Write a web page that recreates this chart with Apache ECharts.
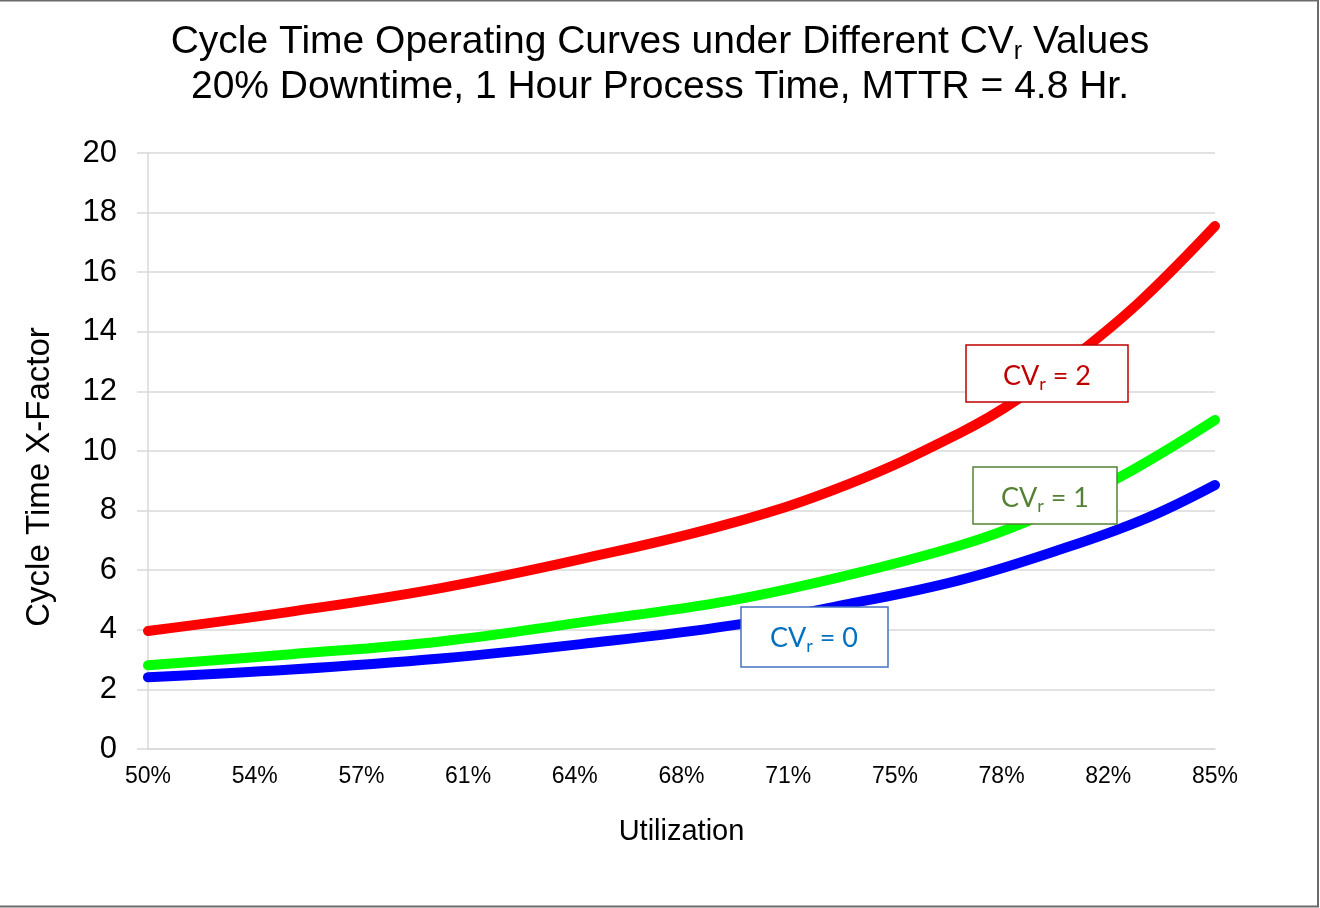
<!DOCTYPE html>
<html>
<head>
<meta charset="utf-8">
<script src="https://cdn.jsdelivr.net/npm/echarts@6/dist/echarts.min.js"></script>
<style>
html,body{margin:0;padding:0;background:#fff;}
#chart{width:1320px;height:908px;}
</style>
</head>
<body>
<div id="chart"></div>
<script>
// Tick positions (utilization, %) and their labels
const xTicks = [50, 53.5, 57, 60.5, 64, 67.5, 71, 74.5, 78, 81.5, 85];
const xTickLabels = ['50%', '54%', '57%', '61%', '64%', '68%', '71%', '75%', '78%', '82%', '85%'];

// CVr = 2 (red)
const redX = [50, 54.7, 59.6, 64.2, 69.1, 73.0, 76.6, 78.5, 80.8, 82.6, 85];
const redY = [3.96, 4.61, 5.40, 6.37, 7.57, 8.90, 10.59, 11.72, 13.5, 15.07, 17.55];
// CVr = 1 (green)
const greenX = [50, 54.7, 59.6, 64.2, 69.1, 73.0, 76.6, 78.8, 81.8, 85];
const greenY = [2.81, 3.18, 3.61, 4.25, 4.98, 5.84, 6.82, 7.62, 9.08, 11.04];
// CVr = 0 (blue)
const blueX = [50, 54.7, 59.6, 64.2, 69.1, 73.0, 76.6, 79.7, 82.6, 85];
const blueY = [2.41, 2.67, 3.04, 3.52, 4.14, 4.87, 5.66, 6.62, 7.68, 8.86];

const pairs = (xs, ys) => xs.map((x, i) => [x, ys[i]]);

const AX = 'Liberation Sans, Arial, sans-serif';
const BOX = 'Lato, sans-serif';
const GRID = '#d9d9d9';

function box(x, y, w, h, cx, cy, label, stroke, color) {
  return {
    type: 'group', z: 100,
    children: [
      { type: 'rect', z: 100, shape: { x: x, y: y, width: w, height: h },
        style: { fill: '#fff', stroke: stroke, lineWidth: 1.5 } },
      { type: 'text', z: 101, x: cx, y: cy,
        style: {
          text: '{m|CV}{s|r}{m| = ' + label + '}',
          align: 'center', verticalAlign: 'middle',
          rich: {
            m: { fontSize: 27, fontFamily: BOX, fill: color, lineHeight: 28, padding: [0, 0, 6, 0] },
            s: { fontSize: 18, fontFamily: BOX, fill: color, lineHeight: 18, verticalAlign: 'bottom' }
          }
        } }
    ]
  };
}

const chart = echarts.init(document.getElementById('chart'), null, { renderer: 'canvas' });
chart.setOption({
  backgroundColor: '#fff',
  animation: false,
  title: {
    text: '{a|Cycle Time Operating Curves under Different CV}{s|r}{a| Values}\n{a|20% Downtime, 1 Hour Process Time, MTTR = 4.8 Hr.}',
    left: 'center', top: 15,
    textStyle: {
      fontWeight: 'normal',
      rich: {
        a: { fontSize: 39, fontFamily: AX, fontWeight: 'normal', color: '#000', lineHeight: 45 },
        s: { fontSize: 25, fontFamily: AX, fontWeight: 'normal', color: '#000', lineHeight: 24, verticalAlign: 'bottom' }
      }
    }
  },
  grid: { left: 148, right: 105, top: 153, bottom: 159, containLabel: false, outerBoundsMode: 'none' },
  xAxis: {
    type: 'value', min: 50, max: 85,
    name: 'Utilization', nameLocation: 'middle', nameGap: 68,
    nameTextStyle: { fontSize: 29, fontFamily: AX, color: '#000' },
    axisLine: { show: true, lineStyle: { color: GRID, width: 1.5 } },
    axisTick: { show: false, customValues: xTicks },
    splitLine: { show: false },
    axisLabel: {
      customValues: xTicks, margin: 16,
      fontSize: 23, fontFamily: AX, color: '#000',
      formatter: function (v) {
        const i = xTicks.findIndex(t => Math.abs(t - v) < 1e-6);
        return i >= 0 ? xTickLabels[i] : '';
      }
    }
  },
  yAxis: {
    type: 'value', min: 0, max: 20, interval: 2,
    name: 'Cycle Time X-Factor', nameLocation: 'middle', nameGap: 92, nameRotate: 90,
    nameTextStyle: { fontSize: 33, fontFamily: AX, color: '#000', padding: [0, 52, 0, 0] },
    axisLine: { show: true, lineStyle: { color: GRID, width: 1.5 } },
    axisTick: { show: true, length: 11, lineStyle: { color: GRID, width: 1.5 } },
    splitLine: { show: true, lineStyle: { color: GRID, width: 1.5 } },
    axisLabel: { margin: 31, fontSize: 31, fontFamily: AX, color: '#000' }
  },
  series: [
    { name: 'CVr = 2', type: 'line', data: pairs(redX, redY), smooth: 0.4, showSymbol: false,
      lineStyle: { color: '#ff0000', width: 10, cap: 'round', join: 'round' } },
    { name: 'CVr = 1', type: 'line', data: pairs(greenX, greenY), smooth: 0.4, showSymbol: false,
      lineStyle: { color: '#00ff00', width: 10, cap: 'round', join: 'round' } },
    { name: 'CVr = 0', type: 'line', data: pairs(blueX, blueY), smooth: 0.4, showSymbol: false,
      lineStyle: { color: '#0000ff', width: 10, cap: 'round', join: 'round' } }
  ],
  graphic: [
    { type: 'rect', z: 0, silent: true, shape: { x: -5, y: 0.5, width: 1323, height: 906 },
      style: { fill: 'none', stroke: '#6b6b6b', lineWidth: 2 } },
    box(966, 345, 162, 57, 1047, 379, '2', '#C00000', '#C00000'),
    box(973, 467, 144, 57, 1045, 501, '1', '#548235', '#548235'),
    box(741, 607, 147, 60, 814, 641, '0', '#4472C4', '#0070C0')
  ]
});
</script>
</body>
</html>
